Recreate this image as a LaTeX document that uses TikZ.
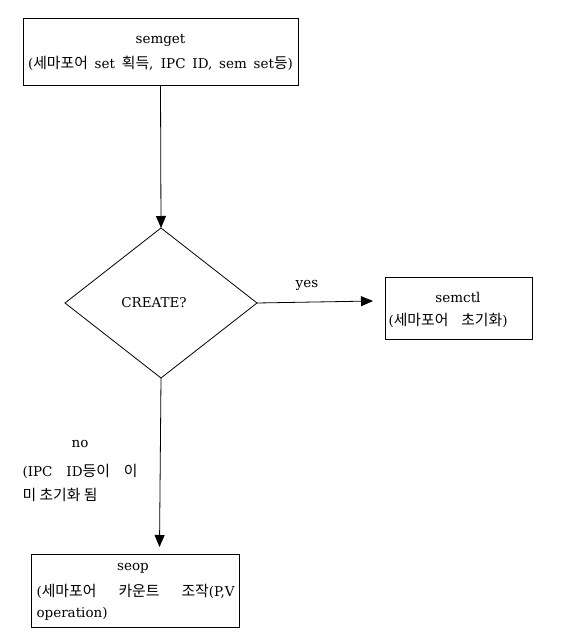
\documentclass[tikz,border=0pt]{standalone}
\usepackage{fontspec}
\setmainfont{DejaVu Serif}
\newfontfamily\kr[Scale=1.1]{Noto Sans CJK KR}
\usetikzlibrary{arrows.meta,shapes.geometric,positioning}

\tikzset{
  box/.style={draw, line width=0.8pt, inner sep=0pt, outer sep=0pt},
  arr/.style={line width=0.8pt, -{Triangle[length=12pt,width=10pt]}},
}

\begin{document}
\begin{tikzpicture}[x=1pt,y=-1pt,font=\fontsize{13.5}{23}\selectfont]
\useasboundingbox (0,0) rectangle (578,644);

% boxes
\node [box, minimum width=275pt, minimum height=67pt] (semget) at (160.5,51.5) {};
\node [box, diamond, minimum width=192pt, minimum height=150pt] (create) at (161,303) {};
\node [box, minimum width=147pt, minimum height=62pt] (semctl) at (458.5,308) {};
\node [box, minimum width=208pt, minimum height=73pt] (seop) at (135,590.5) {};

% texts
\node (semgettitle) at (160.5,40) {semget};
\node (semgetinfo) at (160.5,63) {\makebox[265pt][s]{({\kr 세마포어} set {\kr 획득}, IPC ID, sem set{\kr 등})}};
\node (createtext) at (154,303) {CREATE?};
\node (semctltitle) at (458,297) {semctl};
\node [anchor=west] (semctlinfo) at (385,320) {\makebox[119pt][s]{({\kr 세마포어}\ {\kr 초기화})}};
\node (seoptitle) at (133,568) {seop};
\node [anchor=west] (seopinfo) at (33,591) {\makebox[198pt][s]{({\kr 세마포어} {\kr 카운트} {\kr 조작}(P,V}};
\node [anchor=west] (seopinfob) at (33,614) {operation)};

% connectors
\coordinate (yesend) at (373,301);
\coordinate (noend) at (159.5,547);
\draw [arr] (semget.south) -- (create.north);
\draw [arr] (create.east) -- (yesend);
\draw [arr] (create.south) -- (noend);

\node (yes) at (307,285) {yes};
\node (no) at (80,444) {no};
\node [anchor=west] (nosub) at (19,471) {\makebox[115pt][s]{(IPC ID{\kr 등이} {\kr 이}}};
\node [anchor=west] (nosubb) at (19,495) {{\kr 미 초기화 됨}};
\end{tikzpicture}
\end{document}
